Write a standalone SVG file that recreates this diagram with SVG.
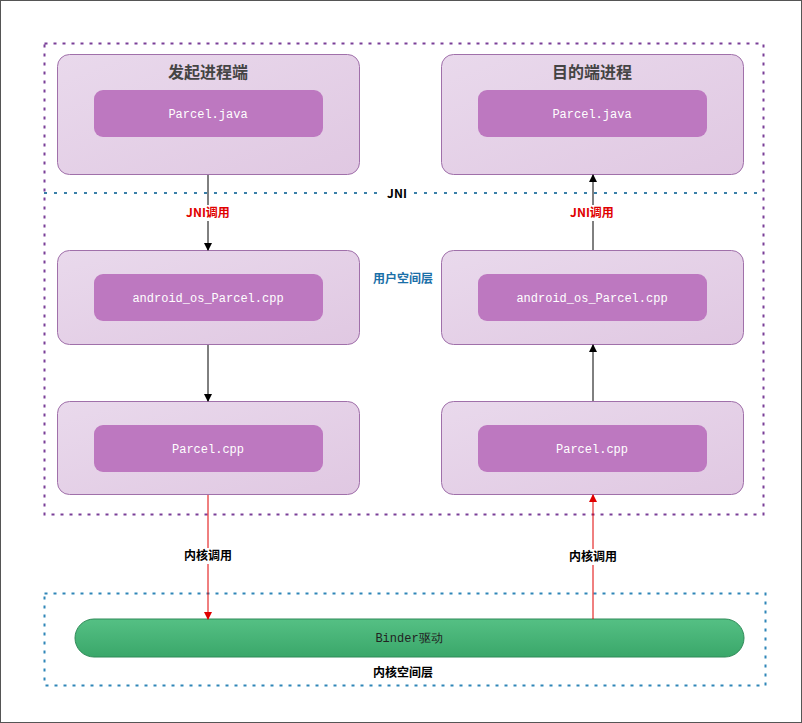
<svg xmlns="http://www.w3.org/2000/svg" width="802" height="723" viewBox="0 0 802 723">
<defs>
<linearGradient id="og" x1="0" y1="0" x2="1" y2="1"><stop offset="0" stop-color="#e9d9ec"/><stop offset="1" stop-color="#e0c8e2"/></linearGradient>
<linearGradient id="gg" x1="0" y1="0" x2="0" y2="1"><stop offset="0" stop-color="#55c084"/><stop offset="1" stop-color="#3aa76a"/></linearGradient>
<marker id="ab" markerWidth="8" markerHeight="8" refX="7" refY="4" orient="auto" markerUnits="userSpaceOnUse"><path d="M0,0 L8,4 L0,8 z" fill="#000"/></marker>
<marker id="ar" markerWidth="8" markerHeight="8" refX="7" refY="4" orient="auto" markerUnits="userSpaceOnUse"><path d="M0,0 L8,4 L0,8 z" fill="#e00000"/></marker>
</defs>
<style>
.outer{fill:url(#og);stroke:#a070aa;stroke-width:1}
.inner{fill:#bd78c0}
.it{font-family:"Liberation Mono","DejaVu Sans Mono",monospace;font-size:12px;fill:#fff;text-anchor:middle}
.title{font-family:"Noto Sans CJK SC",sans-serif;font-size:16px;fill:#444;text-anchor:middle;font-weight:bold}
.lbl{font-family:"Noto Sans CJK SC",sans-serif;font-size:12px;font-weight:bold;text-anchor:middle}
.bl{stroke:#000;stroke-width:1;fill:none;marker-end:url(#ab)}
.rl{stroke:#e00000;stroke-width:1;fill:none;marker-end:url(#ar)}
</style>
<rect x="0.5" y="0.5" width="801" height="722" fill="#fff" stroke="#555"/>
<rect x="44.5" y="43.5" width="719" height="471" fill="none" stroke="#7a3f98" stroke-width="2" stroke-dasharray="3,6"/>
<rect x="44.5" y="593.5" width="721" height="92" fill="none" stroke="#2f86b8" stroke-width="2" stroke-dasharray="3,6"/>
<line x1="44" y1="193" x2="763" y2="193" stroke="#3a7fa8" stroke-width="2" stroke-dasharray="3,7"/>
<rect x="380" y="186" width="32" height="14" fill="#fff"/>
<text class="lbl" x="397" y="198" fill="#000" font-family="Liberation Mono,monospace">JNI</text>
<text class="lbl" x="403" y="283" fill="#1a6fa8">用户空间层</text>
<text class="lbl" x="403" y="677" fill="#000">内核空间层</text>
<g id="src-top"><rect class="outer" x="57.5" y="54.5" width="302" height="120" rx="12"/><text class="title" x="208" y="78">发起进程端</text><rect class="inner" x="94" y="90" width="229" height="47" rx="9"/><text class="it" x="208" y="118">Parcel.java</text></g>
<g id="dst-top"><rect class="outer" x="441.5" y="54.5" width="302" height="120" rx="12"/><text class="title" x="592" y="78">目的端进程</text><rect class="inner" x="478" y="90" width="229" height="47" rx="9"/><text class="it" x="592" y="118">Parcel.java</text></g>
<g id="src-jni"><rect class="outer" x="57.5" y="250.5" width="302" height="94" rx="12"/><rect class="inner" x="94" y="274" width="229" height="47" rx="9"/><text class="it" x="208" y="302">android_os_Parcel.cpp</text></g>
<g id="dst-jni"><rect class="outer" x="441.5" y="250.5" width="302" height="94" rx="12"/><rect class="inner" x="478" y="274" width="229" height="47" rx="9"/><text class="it" x="592" y="302">android_os_Parcel.cpp</text></g>
<g id="src-cpp"><rect class="outer" x="57.5" y="401.5" width="302" height="93" rx="12"/><rect class="inner" x="94" y="425" width="229" height="47" rx="9"/><text class="it" x="208" y="453">Parcel.cpp</text></g>
<g id="dst-cpp"><rect class="outer" x="441.5" y="401.5" width="302" height="93" rx="12"/><rect class="inner" x="478" y="425" width="229" height="47" rx="9"/><text class="it" x="592" y="453">Parcel.cpp</text></g>
<g id="binder"><rect x="75" y="619" width="669" height="38" rx="19" fill="url(#gg)" stroke="#2f8a58"/><text class="it" x="409" y="642" fill="#222" style="fill:#222">Binder驱动</text></g>
<g id="connectors">
<line class="bl" x1="208" y1="175" x2="208" y2="250"/>
<line class="bl" x1="208" y1="345" x2="208" y2="401"/>
<line class="rl" x1="208" y1="495" x2="208" y2="619"/>
<line class="bl" x1="593" y1="401" x2="593" y2="345"/>
<line class="bl" x1="593" y1="250" x2="593" y2="175"/>
<line class="rl" x1="593" y1="619" x2="593" y2="495"/>
<rect x="176" y="205" width="64" height="16" fill="#fff"/>
<text class="lbl" x="208" y="217" fill="#e00000">JNI调用</text>
<rect x="560" y="205" width="64" height="16" fill="#fff"/>
<text class="lbl" x="592" y="217" fill="#e00000">JNI调用</text>
<rect x="178" y="548" width="60" height="16" fill="#fff"/>
<text class="lbl" x="208" y="560" fill="#000">内核调用</text>
<rect x="563" y="549" width="60" height="16" fill="#fff"/>
<text class="lbl" x="593" y="561" fill="#000">内核调用</text>
</g>
</svg>
